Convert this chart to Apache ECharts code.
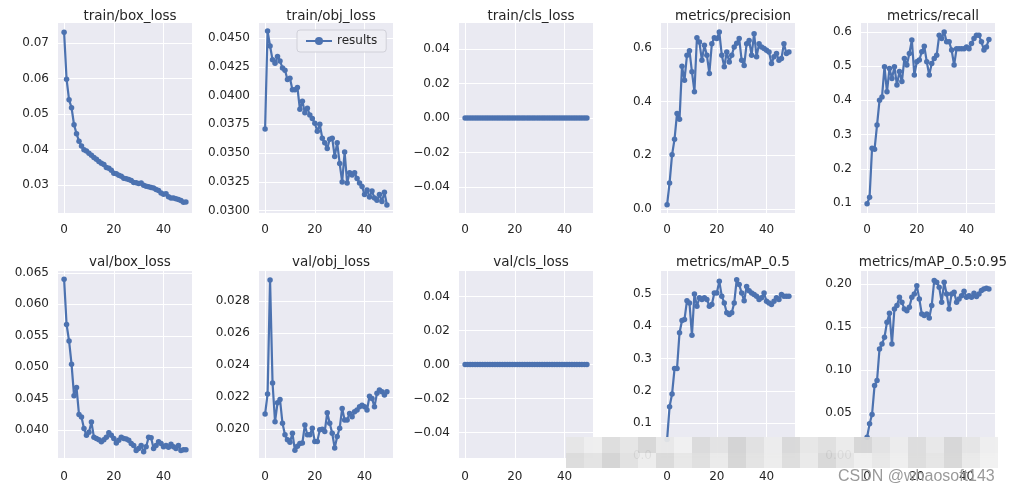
<!DOCTYPE html>
<html>
<head>
    <meta charset="utf-8">
    <script src="https://cdn.jsdelivr.net/npm/echarts@6/dist/echarts.min.js"></script>
</head>
<body style="margin:0;background:#fff;">
    <div id="main" style="width: 1018px;height:494px;"></div>
    <script type="text/javascript">
        var epochs = [0,1,2,3,4,5,6,7,8,9,10,11,12,13,14,15,16,17,18,19,20,21,22,23,24,
                      25,26,27,28,29,30,31,32,33,34,35,36,37,38,39,40,41,42,43,44,45,46,47,48,49];

        var titles = ['train/box_loss', 'train/obj_loss', 'train/cls_loss', 'metrics/precision', 'metrics/recall',
                      'val/box_loss', 'val/obj_loss', 'val/cls_loss', 'metrics/mAP_0.5', 'metrics/mAP_0.5:0.95'];

        var trainBox = [0.0730,0.0598,0.0540,0.0518,0.0470,0.0445,0.0424,0.0410,0.0400,0.0396,
                        0.0390,0.0384,0.0378,0.0373,0.0367,0.0362,0.0358,0.0350,0.0348,0.0342,
                        0.0334,0.0332,0.0328,0.0325,0.0320,0.0318,0.0316,0.0313,0.0308,0.0307,
                        0.0305,0.0306,0.0300,0.0297,0.0296,0.0294,0.0292,0.0288,0.0285,0.0278,
                        0.0275,0.0276,0.0268,0.0264,0.0264,0.0262,0.0260,0.0257,0.0252,0.0253];
        var trainObj = [0.0371,0.0456,0.0443,0.0431,0.0428,0.0434,0.0430,0.0424,0.0422,0.0414,
                        0.0415,0.0405,0.0405,0.0407,0.0388,0.0395,0.0385,0.0389,0.0383,0.0380,
                        0.0376,0.0369,0.0375,0.0363,0.0359,0.0354,0.0362,0.0363,0.0347,0.0359,
                        0.0341,0.0325,0.0351,0.0324,0.0333,0.0331,0.0333,0.0328,0.0324,0.0321,
                        0.0314,0.0318,0.0312,0.0317,0.0311,0.0309,0.0314,0.0308,0.0316,0.0305];
        var trainCls = [0,0,0,0,0,0,0,0,0,0,0,0,0,0,0,0,0,0,0,0,0,0,0,0,0,
                        0,0,0,0,0,0,0,0,0,0,0,0,0,0,0,0,0,0,0,0,0,0,0,0,0];
        var precision = [0.016,0.097,0.202,0.260,0.356,0.334,0.532,0.480,0.573,0.590,
                         0.511,0.437,0.638,0.622,0.554,0.610,0.573,0.505,0.616,0.638,
                         0.635,0.659,0.573,0.530,0.585,0.548,0.573,0.604,0.618,0.635,
                         0.554,0.535,0.616,0.628,0.573,0.653,0.567,0.616,0.604,0.598,
                         0.591,0.585,0.542,0.567,0.579,0.554,0.561,0.616,0.579,0.585];
        var recall = [0.098,0.117,0.260,0.257,0.328,0.400,0.410,0.498,0.425,0.493,
                      0.464,0.498,0.445,0.484,0.455,0.522,0.503,0.537,0.576,0.474,
                      0.513,0.518,0.542,0.558,0.513,0.474,0.508,0.522,0.532,0.590,
                      0.581,0.600,0.571,0.571,0.547,0.503,0.551,0.551,0.551,0.551,
                      0.556,0.551,0.566,0.581,0.590,0.590,0.571,0.547,0.556,0.578];
        var valBox = [0.0640,0.0568,0.0542,0.0505,0.0455,0.0468,0.0425,0.0421,0.0403,0.0392,
                      0.0397,0.0413,0.0389,0.0387,0.0385,0.0382,0.0385,0.0389,0.0396,0.0392,
                      0.0387,0.0380,0.0384,0.0389,0.0387,0.0386,0.0384,0.0379,0.0376,0.0368,
                      0.0371,0.0376,0.0366,0.0374,0.0389,0.0388,0.0371,0.0376,0.0382,0.0379,
                      0.0374,0.0376,0.0373,0.0378,0.0374,0.0371,0.0376,0.0368,0.0369,0.0369];
        var valObj = [0.02095,0.02220,0.02934,0.02289,0.02047,0.02165,0.02186,0.02037,0.01965,0.01934,
                      0.01918,0.01975,0.01868,0.01893,0.01910,0.01914,0.02027,0.01965,0.01965,0.02006,
                      0.01924,0.01924,0.01996,0.02000,0.01986,0.02103,0.02037,0.01975,0.01882,0.01955,
                      0.02006,0.02130,0.02058,0.02058,0.02099,0.02078,0.02110,0.02120,0.02140,0.02150,
                      0.02140,0.02120,0.02206,0.02192,0.02140,0.02225,0.02245,0.02235,0.02214,0.02235];
        var valCls = [0,0,0,0,0,0,0,0,0,0,0,0,0,0,0,0,0,0,0,0,0,0,0,0,0,
                      0,0,0,0,0,0,0,0,0,0,0,0,0,0,0,0,0,0,0,0,0,0,0,0,0];
        var map50 = [0.049,0.151,0.190,0.269,0.269,0.380,0.418,0.421,0.479,0.472,
                     0.372,0.500,0.462,0.488,0.483,0.488,0.483,0.462,0.467,0.503,
                     0.503,0.539,0.493,0.472,0.442,0.436,0.442,0.472,0.544,0.529,
                     0.503,0.479,0.523,0.510,0.503,0.498,0.493,0.483,0.488,0.503,
                     0.477,0.472,0.467,0.477,0.488,0.483,0.498,0.493,0.493,0.493];
        var map5095 = [0.0220,0.0377,0.0485,0.0820,0.0879,0.1246,0.1304,0.1381,0.1555,0.1660,
                       0.1304,0.1710,0.1749,0.1845,0.1787,0.1710,0.1690,0.1730,0.1845,0.1884,
                       0.1980,0.1826,0.1652,0.1633,0.1652,0.1606,0.1749,0.2039,0.2019,0.1961,
                       0.1787,0.2019,0.1884,0.1710,0.1884,0.1903,0.1787,0.1826,0.1864,0.1915,
                       0.1845,0.1864,0.1845,0.1892,0.1853,0.1884,0.1923,0.1942,0.1950,0.1942];

        var seriesData = [trainBox, trainObj, trainCls, precision, recall, valBox, valObj, valCls, map50, map5095];

        // tick labels of each panel
        var xTicks = [0, 20, 40];
        var yTicks = [
            [0.03, 0.04, 0.05, 0.06, 0.07],
            [0.0300, 0.0325, 0.0350, 0.0375, 0.0400, 0.0425, 0.0450],
            [-0.04, -0.02, 0.00, 0.02, 0.04],
            [0.0, 0.2, 0.4, 0.6],
            [0.1, 0.2, 0.3, 0.4, 0.5, 0.6],
            [0.040, 0.045, 0.050, 0.055, 0.060, 0.065],
            [0.020, 0.022, 0.024, 0.026, 0.028],
            [-0.04, -0.02, 0.00, 0.02, 0.04],
            [0.0, 0.1, 0.2, 0.3, 0.4, 0.5],
            [0.00, 0.05, 0.10, 0.15, 0.20]
        ];
        var yDecimals = [2, 4, 2, 1, 1, 3, 3, 2, 1, 2];
        var yRange = [
            [0.0222, 0.0756], [0.0298, 0.0463], [-0.055, 0.055], [-0.015, 0.693], [0.071, 0.626],
            [0.0356, 0.0653], [0.0182, 0.0299], [-0.055, 0.055], [-0.008, 0.571], [-0.002, 0.215]
        ];

        var lefts = [58, 259, 459, 661, 861];
        var plotW = 134;
        var tops = [23, 271];
        var heights = [190, 187];

        var myChart = echarts.init(document.getElementById('main'));

        var grids = [], xAxes = [], yAxes = [], series = [], titleList = [];
        for (var i = 0; i < 10; i++) {
            var row = Math.floor(i / 5), col = i % 5;
            grids.push({
                left: lefts[col], top: tops[row], width: plotW, height: heights[row],
                show: true, backgroundColor: '#EAEAF2', borderWidth: 0
            });
            titleList.push({
                text: titles[i],
                left: lefts[col] + plotW / 2,
                top: row === 0 ? 4 : 250,
                textAlign: 'center',
                textStyle: { fontFamily: 'DejaVu Sans', fontSize: 13.5, fontWeight: 'normal', color: '#262626' }
            });
            xAxes.push({
                type: 'value', gridIndex: i, min: -2.45, max: 51.45,
                axisLine: { show: false },
                axisTick: { show: false, customValues: xTicks },
                axisLabel: { customValues: xTicks, margin: row === 0 ? 11 : 13, color: '#262626', fontFamily: 'DejaVu Sans', fontSize: 12 },
                splitLine: { show: true, lineStyle: { color: '#ffffff', width: 1 } }
            });
            (function (dec) {
                yAxes.push({
                    type: 'value', gridIndex: i, min: yRange[i][0], max: yRange[i][1],
                    axisLine: { show: false },
                    axisTick: { show: false, customValues: yTicks[i] },
                    axisLabel: {
                        customValues: yTicks[i], margin: 9, color: '#262626', fontFamily: 'DejaVu Sans', fontSize: 12,
                        formatter: function (v) { return v.toFixed(dec).replace('-', '\u2212'); }
                    },
                    splitLine: { show: true, lineStyle: { color: '#ffffff', width: 1 } }
                });
            })(yDecimals[i]);
            var pts = [];
            for (var k = 0; k < epochs.length; k++) pts.push([epochs[k], seriesData[i][k]]);
            series.push({
                name: 'results', type: 'line', xAxisIndex: i, yAxisIndex: i,
                data: pts, symbol: 'circle', symbolSize: 5.5, showSymbol: true,
                itemStyle: { color: '#4C72B0' },
                lineStyle: { color: '#4C72B0', width: 2.2 },
                animation: false, silent: true
            });
        }

        // mosaic watermark band and text
        var graphics = [];
        var shades = ['#e6e6e6','#eeeeee','#dcdcdc','#e4e4e4','#d6d6d6','#e8e8e8','#f0f0f0','#dadada',
                      '#e2e2e2','#d2d2d2','#e0e0e0','#ececec','#d8d8d8','#e6e6e6','#dedede','#eaeaea',
                      '#d4d4d4','#e2e2e2','#ececec','#dcdcdc','#e8e8e8','#d6d6d6','#e4e4e4','#eeeeee'];
        for (var b = 0; b < 24; b++) {
            graphics.push({ type: 'rect', z: 100, shape: { x: 566 + b * 18, y: 437, width: 18, height: 16 },
                style: { fill: shades[b], opacity: 0.94 }, silent: true });
            graphics.push({ type: 'rect', z: 100, shape: { x: 566 + b * 18, y: 453, width: 18, height: 15 },
                style: { fill: shades[(b + 7) % 24], opacity: 0.93 }, silent: true });
        }
        graphics.push({ type: 'text', z: 101, left: 838, top: 469,
            style: { text: 'CSDN @whaosoft143', fill: '#9a9a9a', font: '16px "Liberation Sans"' }, silent: true });

        var option = {
            backgroundColor: '#ffffff',
            title: titleList,
            legend: {
                data: ['results'],
                left: 297, top: 30,
                itemWidth: 26, itemHeight: 10, itemGap: 5,
                padding: [5, 9, 5, 8],
                backgroundColor: 'rgba(238,238,244,0.9)',
                borderColor: '#d0d0d8', borderWidth: 1, borderRadius: 3,
                textStyle: { fontFamily: 'DejaVu Sans', fontSize: 12, color: '#262626' }
            },
            grid: grids,
            xAxis: xAxes,
            yAxis: yAxes,
            series: series,
            graphic: graphics
        };

        myChart.setOption(option);
    </script>
</body>
</html>
